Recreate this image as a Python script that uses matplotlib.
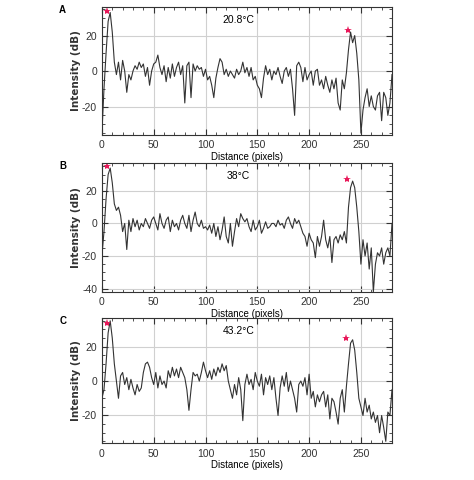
import numpy as np
import matplotlib
matplotlib.use('Agg')
import matplotlib.pyplot as plt
from matplotlib.ticker import MultipleLocator

plt.rcParams['axes.unicode_minus'] = False

# distance axis, one value every 2 pixels
distance = list(range(0, 282, 2))

# panel A, 20.8 C
intensity_a = [
    -35, -10, 10, 28, 33, 22, 5, -2, 5, -5,
    6, 0, -12, -2, -5, 0, 3, 1, 5, 2,
    4, -3, 2, -8, 0, 4, 5, 9, 2, -2,
    3, -6, 2, -4, 4, -3, 2, 5, -2, 3,
    -18, 3, 5, -15, 4, 0, 3, 1, 2, -3,
    1, -5, -3, -8, -15, -4, 2, 7, 5, -2,
    1, -3, 0, -2, -4, 1, -2, 0, 5, -1,
    2, -3, 2, -5, -3, -8, -10, -15, -4, 3,
    -2, 1, -5, 0, -2, 2, -3, -7, 0, 2,
    -3, 1, -10, -25, 3, 5, 2, -6, 2, -5,
    -2, 0, -8, 0, 1, -8, -5, -10, -3, -8,
    -12, -5, -10, -4, -18, -22, -5, -10, -1, 12,
    22, 16, 20, 10, -5, -35, -22, -15, -10, -20,
    -14, -20, -22, -14, -12, -28, -12, -15, -25, -18,
    -2,
]

# panel B, 38 C
intensity_b = [
    -20, -5, 15, 30, 34, 25, 12, 8, 10, 5,
    -5, 0, -16, 2, -5, 3, -2, 2, -4, 0,
    -2, 3, 0, -3, 2, 4, 0, -4, 6, 0,
    -3, 2, 4, -5, 2, -2, 0, -4, 2, 5,
    0, -3, 5, -5, 2, 7, 0, -2, 2, -3,
    -2, -4, -1, -6, 0, -8, -2, -10, -4, 4,
    -8, -12, 0, -14, -5, 3, -2, 6, 3, 1,
    3, -2, -5, 2, -4, -2, 2, -6, -3, 1,
    -3, -2, 0, 0, -2, 2, -1, 0, -3, 2,
    4, 0, -3, 3, 0, 2, -2, -6, -8, -14,
    -6, -10, -12, -21, -8, -14, -8, 2, -10, -15,
    -8, -24, -10, -8, -12, -7, -10, -5, -12, 10,
    22, 26, 22, 10, -5, -25, -10, -20, -12, -28,
    -15, -42, -25, -18, -20, -15, -25, -18, -15, -20,
    0,
]

# panel C, 43.2 C
intensity_c = [
    -10, -5, 10, 28, 35, 25, 10, 0, -10, 3,
    5, -2, 2, -5, 1, -4, -8, -2, -6, -4,
    5, 10, 11, 8, 2, -2, 5, -4, 3, -2,
    0, -4, 6, 2, 8, 3, 7, 2, 8, 5,
    2, -5, -17, -5, 5, 3, 4, 0, 5, 11,
    6, 2, 6, 1, 7, 3, 8, 5, 10, 6,
    9, 0, -5, -10, -2, -8, 2, -5, -23, -2,
    4, -2, 1, -5, 5, 0, -3, 4, -8, 2,
    -2, 3, -5, 2, -10, -20, -4, 3, -3, 5,
    -6, 0, -5, -10, -18, -2, 0, -3, 2, -8,
    4, -10, -6, -15, -8, -12, -8, -6, -15, -8,
    -22, -10, -12, -18, -25, -10, -5, -18, -3, 10,
    22, 24, 18, 5, -10, -15, -20, -10, -18, -14,
    -22, -18, -24, -20, -30, -20, -27, -35, -18, -20,
    -5,
]

panels = ['A', 'B', 'C']
temps = ['20.8°C', '38°C', '43.2°C']
peaks_x = [[5, 238], [5, 237], [5, 236]]
peaks_y = [[34, 23], [35, 27], [34, 25]]
ylims = [(-36, 36), (-42, 37), (-36, 36.5)]

fig = plt.figure(figsize=(4.74, 4.80), dpi=100)
boxes = [
    [0.215, 0.719, 0.612, 0.266],
    [0.215, 0.392, 0.612, 0.268],
    [0.215, 0.077, 0.612, 0.260],
]
data = [intensity_a, intensity_b, intensity_c]

for i in range(3):
    ax = fig.add_axes(boxes[i])
    ax.plot(distance, data[i], color='#333333', lw=0.8)
    ax.plot(peaks_x[i], peaks_y[i], '*', color='#e8195a', ms=6, mew=0)
    ax.set_xlim(0, 280)
    ax.set_ylim(*ylims[i])
    ax.xaxis.set_major_locator(MultipleLocator(50))
    ax.xaxis.set_minor_locator(MultipleLocator(10))
    ax.yaxis.set_major_locator(MultipleLocator(20))
    ax.yaxis.set_minor_locator(MultipleLocator(5))
    ax.tick_params(which='both', direction='in', top=True, right=True,
                   labelsize=7.5, colors='#333333')
    ax.tick_params(which='major', length=4)
    ax.tick_params(which='minor', length=2)
    ax.tick_params(axis='x', pad=4)
    ax.grid(True, which='major', color='#d0d0d0', lw=0.8)
    for s in ax.spines.values():
        s.set_color('#333333')
        s.set_linewidth(0.8)
    ax.set_xlabel('Distance (pixels)', fontsize=7, labelpad=1,
                  family='Liberation Sans')
    ax.set_ylabel('Intensity (dB)', fontsize=7.5, fontweight='semibold',
                  color='#333333', labelpad=1)
    ax.text(0.47, 0.9, temps[i], transform=ax.transAxes, fontsize=7.5,
            ha='center', va='center', family='Liberation Sans')
    ax.text(-0.135, 0.98, panels[i], transform=ax.transAxes, fontsize=7,
            fontweight='bold', ha='center', va='center',
            family='Liberation Sans')
    for lab in ax.get_xticklabels() + ax.get_yticklabels():
        lab.set_family('Liberation Sans')

fig.savefig('out.png', dpi=100)
